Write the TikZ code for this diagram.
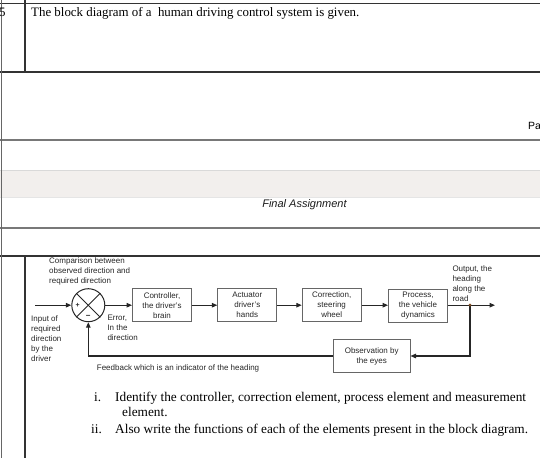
\documentclass[tikz,border=0pt]{standalone}
\usepackage{fontspec}
\setmainfont{Liberation Serif}
\newfontfamily\arialf{Liberation Sans}
\usetikzlibrary{arrows.meta}
\definecolor{txt}{HTML}{262626}
\definecolor{rulec}{HTML}{787878}
\definecolor{bandc}{HTML}{F2EFED}
\definecolor{boxc}{HTML}{666666}
\definecolor{dotc}{HTML}{7A4A20}
\tikzset{
  lbl/.style={font=\arialf\fontsize{8}{10}\selectfont, text=txt, inner sep=0pt, align=left, anchor=west},
  blk/.style={draw=boxc, line width=0.9pt, font=\arialf\fontsize{8}{10}\selectfont, text=txt, align=center,
              minimum width=59pt, minimum height=33pt, inner sep=1pt},
  conn/.style={draw=txt, line width=1.1pt},
  arr/.style={conn, -{Triangle[length=5.5pt,width=4.5pt]}},
  qtxt/.style={font=\fontsize{13.3}{15}\selectfont, inner sep=0pt, anchor=west, text=black,
               text height=9pt, text depth=2.8pt},
  tabline/.style={draw=black!80, line width=1.1pt},
  grayrule/.style={draw=rulec, line width=2pt},
}
\begin{document}
\begin{tikzpicture}[x=1pt,y=-1pt]
\useasboundingbox (0,0) rectangle (540,458);
% table / page structure
\fill[bandc] (0,170) rectangle (540,197);
\draw[draw=black!15, line width=0.6pt] (0,170.5) -- (540,170.5);
\draw[draw=black!10, line width=0.5pt] (0,197) -- (540,197);
\draw[tabline] (0,3.5) -- (540,3.5);
\draw[tabline] (0,72) -- (540,72);
\draw[tabline] (25,0) -- (25,72);
\draw[grayrule] (0,140) -- (540,140);
\draw[grayrule] (0,227.5) -- (540,227.5);
\draw[tabline] (0,256) -- (540,256);
\draw[tabline] (25,256) -- (25,458);
\draw[draw=black!60, line width=1pt] (1,0) -- (1,458);
% texts of the page
\node[qtxt, font=\fontsize{12.9}{15}\selectfont] (num) at (-1.2,13) {5};
\node[qtxt, font=\fontsize{12.9}{15}\selectfont] (head) at (31,13) {The block diagram of a\ \ human driving control system is given.};
\node[font=\arialf\fontsize{10.5}{12}\selectfont, inner sep=0pt, anchor=west] (pa) at (528,126) {Pa};
\node[font=\arialf\itshape\fontsize{11}{12}\selectfont, inner sep=0pt, text=black!90] (fa) at (304.5,205) {Final Assignment};
% block diagram
\node[circle, draw=txt, line width=1pt, minimum size=33pt, inner sep=0pt] (sum) at (88.3,305.2) {};
\draw[draw=txt, line width=0.9pt] (sum.north east) -- (sum.south west);
\draw[draw=txt, line width=0.9pt] (sum.north west) -- (sum.south east);
\node[font=\arialf\bfseries\fontsize{7}{8}\selectfont, inner sep=0pt, text=txt] (plus) at (77.7,305.5) {+};
\node[font=\arialf\bfseries\fontsize{8}{8}\selectfont, inner sep=0pt, text=txt] (minus) at (88.3,316.5) {−};
\node[blk] (ctrl) at (162,305.3) {Controller,\\the driver’s\\brain};
\node[blk] (act) at (247.3,304.5) {Actuator\\driver’s\\hands};
\node[blk] (corr) at (331.7,304.7) {Correction,\\steering\\wheel};
\node[blk] (proc) at (418,305.8) {Process,\\the vehicle\\dynamics};
\node[blk, minimum width=76.7pt, minimum height=33.4pt] (obs) at (371.7,356) {Observation by\\the eyes};
\coordinate (in) at (35,305.2);
\coordinate (out) at (495,305.2);
\node[circle, fill=dotc, inner sep=0pt, minimum size=3pt] (br) at (470,305.2) {};
\draw[arr] (in) -- (sum);
\draw[arr] (sum) -- (ctrl.west |- sum);
\draw[arr] (ctrl.east |- sum) -- (act.west |- sum);
\draw[arr] (act.east |- sum) -- (corr.west |- sum);
\draw[arr] (corr.east |- sum) -- (proc.west |- sum);
\draw[arr] (proc.east |- sum) -- (out);
\draw[arr] (br.center) |- (obs.east);
\draw[arr] (obs.west) -| (sum.south);
\node[circle, fill=dotc, inner sep=0pt, minimum size=3pt] at (br) {};
% labels
\node[lbl] (cmp) at (49,271.5) {Comparison between\\observed direction and\\required direction};
\node[lbl] (inp) at (31,338.5) {Input of\\required\\direction\\by the\\driver};
\node[lbl] (err) at (107.3,328) {Error,\\In the\\direction};
\node[lbl] (outl) at (452.3,283.5) {Output, the\\heading\\along the\\road};
\node[lbl] (fb) at (96.7,368) {Feedback which is an indicator of the heading};
% questions
\node[qtxt] (qi) at (94,398) {i.};
\node[qtxt] (qit) at (115,398) {Identify the controller, correction element, process element and measurement};
\node[qtxt] (qit2) at (122,413) {element.};
\node[qtxt] (qii) at (91,430) {ii.};
\node[qtxt] (qiit) at (115,430) {Also write the functions of each of the elements present in the block diagram.};
\end{tikzpicture}
\end{document}
